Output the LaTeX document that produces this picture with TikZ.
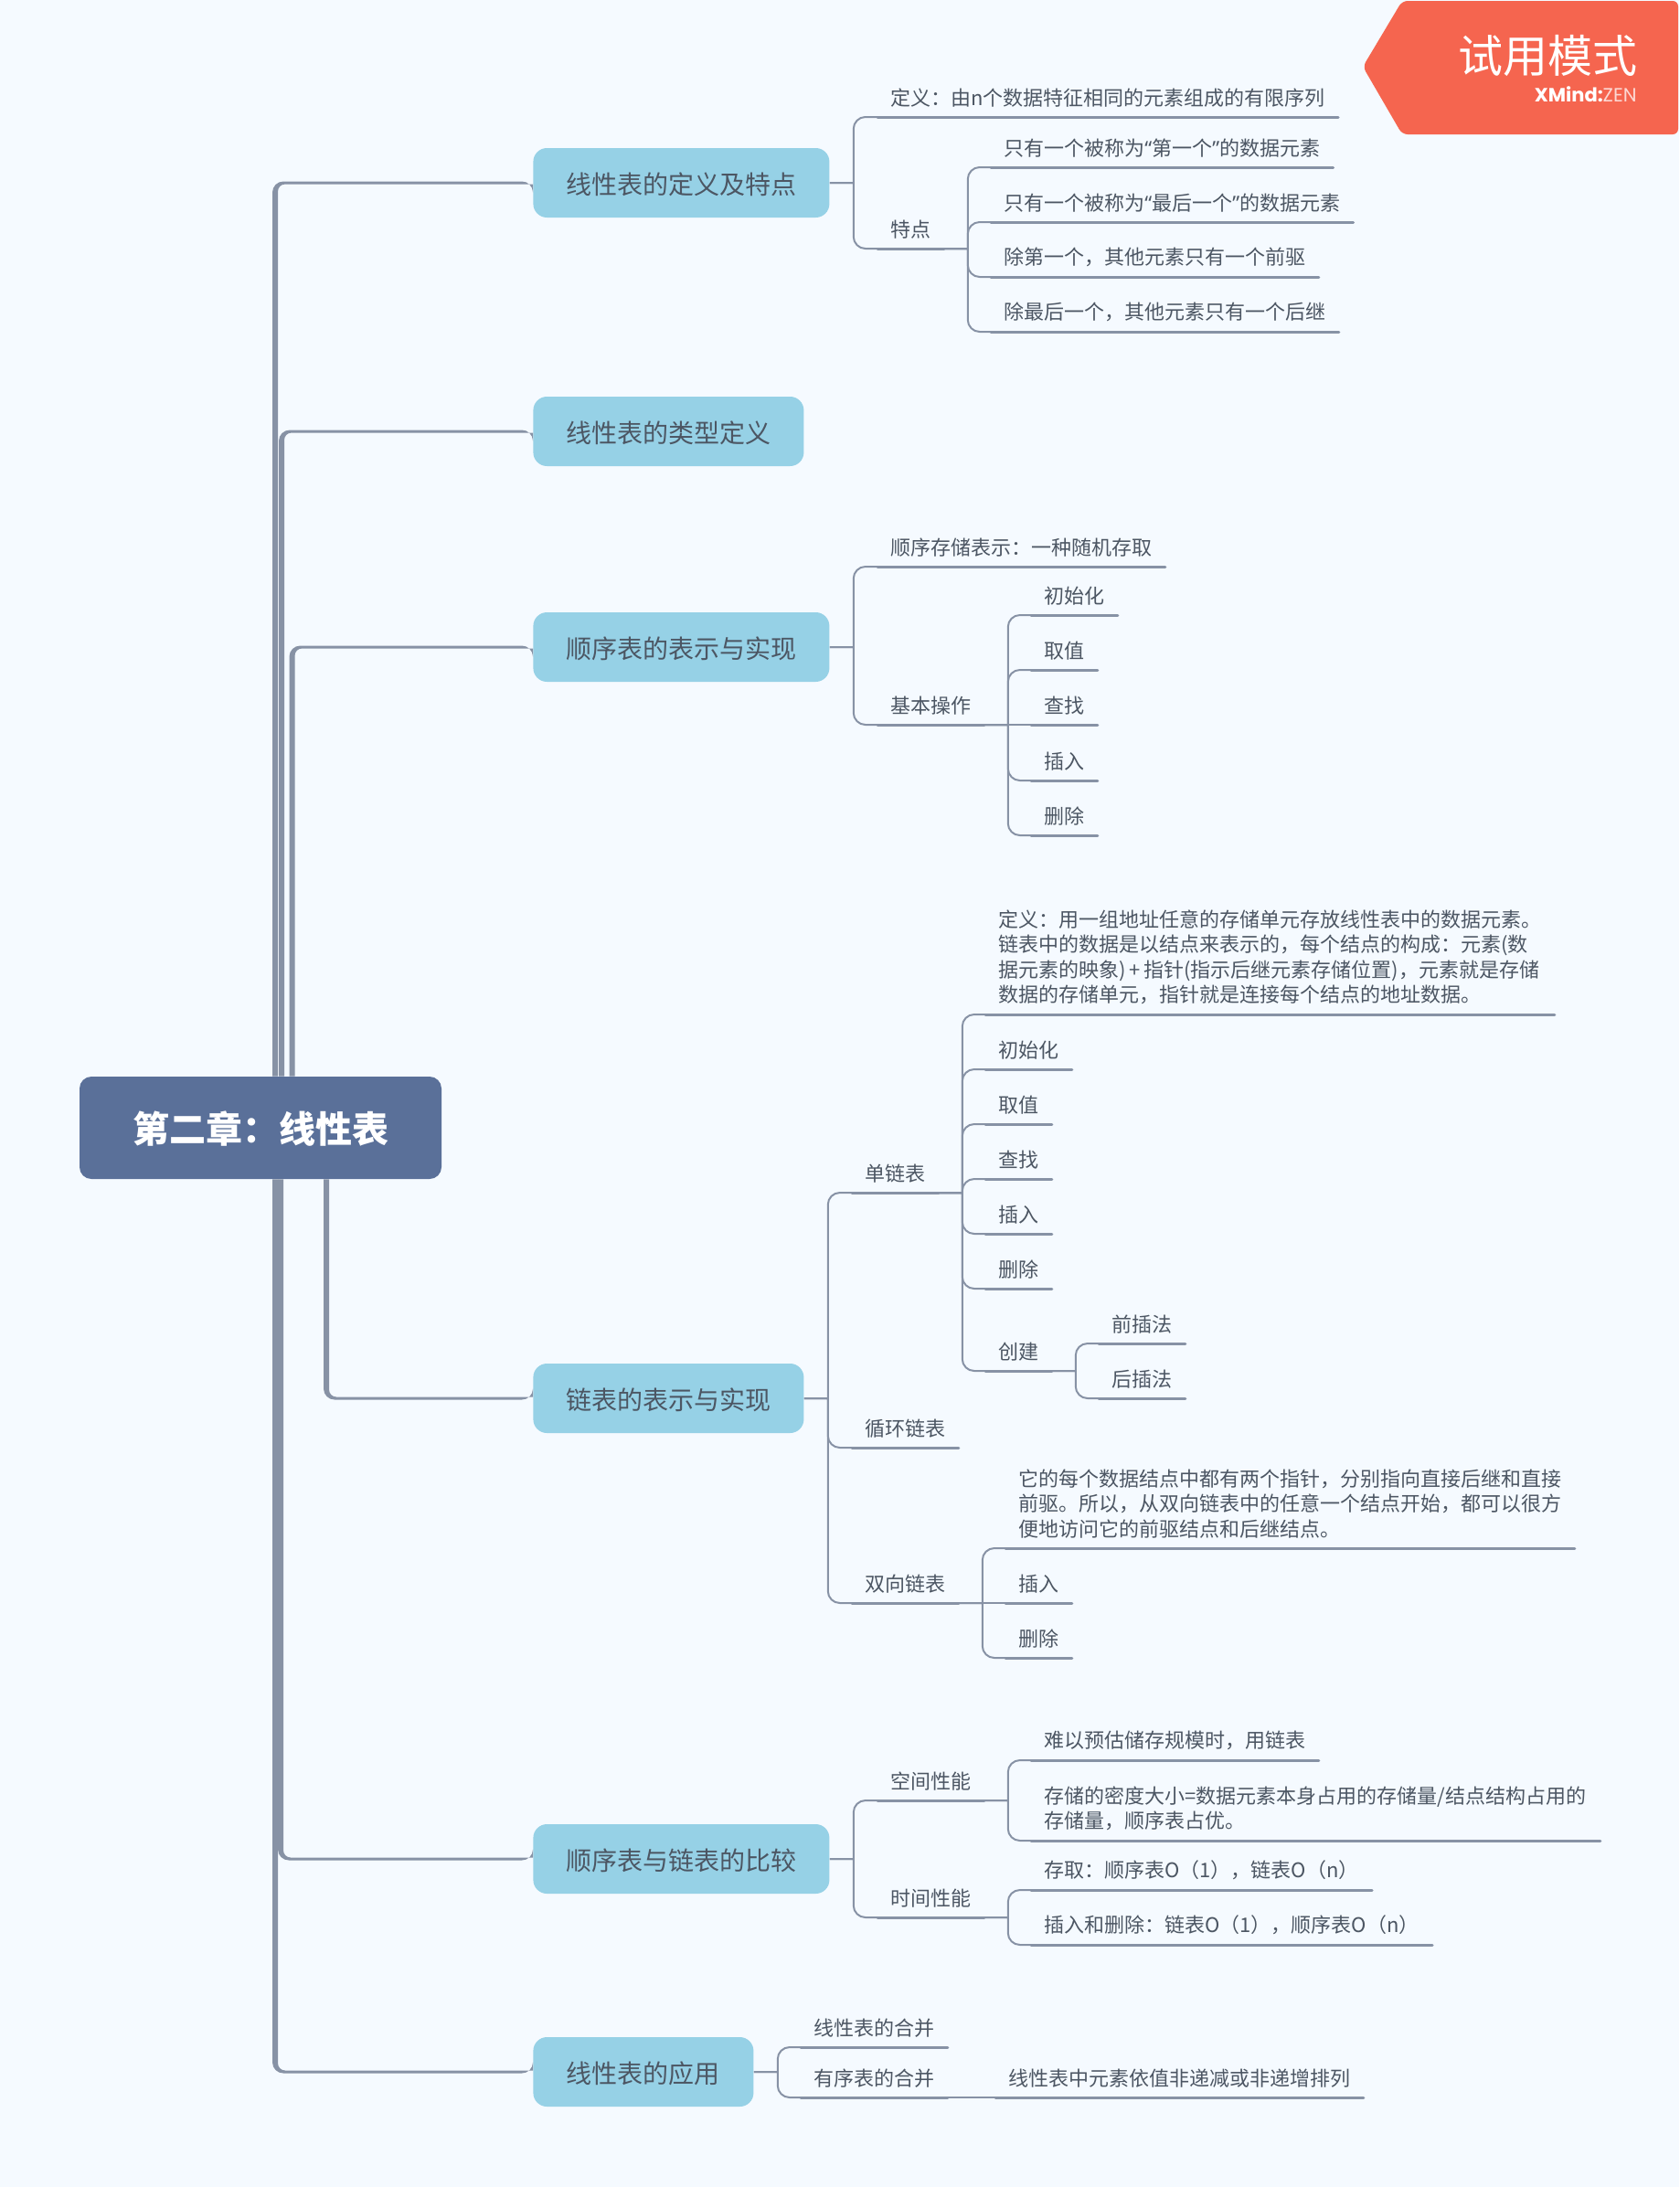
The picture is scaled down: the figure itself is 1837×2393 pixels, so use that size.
\documentclass[tikz,border=0pt]{standalone}
\usepackage{fontspec}
\usepackage{xcolor}
\usetikzlibrary{calc}
\setmainfont{Noto Sans CJK SC}
\newfontfamily\logofont{Poppins}
\newfontfamily\quotefont{Noto Sans}
\newcommand{\openq}{{\quotefont “}}
\newcommand{\closeq}{{\quotefont ”}}
\definecolor{paper}{HTML}{F5FAFF}
\definecolor{linec}{HTML}{8792A5}
\definecolor{rootc}{HTML}{5A7099}
\definecolor{topicc}{HTML}{96D1E6}
\definecolor{inkc}{HTML}{4C5663}
\definecolor{badgec}{HTML}{F5654F}
\tikzset{
  roottopic/.style={fill=rootc,text=white,rounded corners=6.5pt,minimum width=198pt,minimum height=56pt,text height=18.6pt,text depth=2.4pt,font=\fontsize{20}{24}\selectfont\bfseries},
  maintopic/.style={anchor=west,fill=topicc,text=inkc,rounded corners=7.5pt,minimum height=38pt,text height=14.6pt,text depth=2pt,font=\fontsize{14}{17}\selectfont},
  underline/.style={draw=linec,line width=1.5pt,line cap=round},
  branch/.style={draw=linec,line width=1pt},
  curved/.style={rounded corners=6.5pt},
  trunk/.style={fill=linec},
  leaf/.style={anchor=south west,inner xsep=7pt,inner ysep=5.25pt,text=inkc,align=left,font=\fontsize{11}{13.75}\selectfont,
    append after command={(\tikzlastnode.south west) edge[underline] (\tikzlastnode.south east)}}
}
\newcommand{\trunkline}[4]{
  \fill[trunk] (#2,0 |- root.#3) [rounded corners=6pt] -- ($(#2,0 |- #1.west)+(0,#4)$) -- ($(#1.west)+(0,#4)$) [sharp corners] -- ($(#1.west)+(0,-#4)$) [rounded corners=4pt] -- ($(#2+6,0 |- #1.west)+(0,-#4)$) [sharp corners] -- (#2+6,0 |- root.#3) -- cycle;
}
\begin{document}
\begin{tikzpicture}[x=.5pt,y=-.5pt]
\useasboundingbox (0,0) rectangle (1837,2393);
\fill[paper] (0,0) rectangle (1837,2393);
\fill[badgec,rounded corners=3pt] (1836,1) -- (1836,147) -- (1534,147) -- (1491,73) -- (1534,1) -- cycle;
\node[anchor=east,text=white,font=\fontsize{24.5}{28}\selectfont,inner sep=0pt] (badge) at (1792,61) {试用模式};
\node[anchor=east,text=white,font=\fontsize{10.5}{13}\selectfont\logofont,inner sep=0pt] (brand) at (1791,103) {\textbf{XMind:}\textcolor{white!75!badgec}{ZEN}};

\node[roottopic] (root) at (285,1234) {第二章：线性表};
\node[maintopic,minimum width=162pt] (tdef) at (583,200) {线性表的定义及特点};
\node[maintopic,minimum width=148pt] (ttype) at (583,472) {线性表的类型定义};
\node[maintopic,minimum width=162pt] (tseq) at (583,708) {顺序表的表示与实现};
\node[maintopic,minimum width=148pt] (tlink) at (583,1530) {链表的表示与实现};
\node[maintopic,minimum width=162pt] (tcmp) at (583,2034) {顺序表与链表的比较};
\node[maintopic,minimum width=120.5pt] (tuse) at (583,2267) {线性表的应用};

\trunkline{tdef}{298}{north}{-1.5}
\trunkline{ttype}{305}{north}{-1.5}
\trunkline{tseq}{316.5}{north}{-1.5}
\trunkline{tlink}{354}{south}{1.5}
\trunkline{tcmp}{304}{south}{1.5}
\trunkline{tuse}{298}{south}{1.5}

\node[leaf] (a1) at (960,128) {定义：由n个数据特征相同的元素组成的有限序列};
\node[leaf] (a2) at (960,272) {特点};
\node[leaf] (a21) at (1084,183) {只有一个被称为\openq 第一个\closeq 的数据元素};
\node[leaf] (a22) at (1084,243) {只有一个被称为\openq 最后一个\closeq 的数据元素};
\node[leaf] (a23) at (1084,303) {除第一个，其他元素只有一个前驱};
\node[leaf] (a24) at (1084,363) {除最后一个，其他元素只有一个后继};

\node[leaf] (b1) at (960,620) {顺序存储表示：一种随机存取};
\node[leaf] (b2) at (960,793) {基本操作};
\node[leaf] (b21) at (1128,673) {初始化};
\node[leaf] (b22) at (1128,733) {取值};
\node[leaf] (b23) at (1128,793) {查找};
\node[leaf] (b24) at (1128,854) {插入};
\node[leaf] (b25) at (1128,914) {删除};

\node[leaf] (c1) at (932,1305) {单链表};
\node[leaf] (c2) at (932,1584) {循环链表};
\node[leaf] (c3) at (932,1754) {双向链表};
\node[leaf,text width=297pt] (c11) at (1078,1110) {定义：用一组地址任意的存储单元存放线性表中的数据元素。\\链表中的数据是以结点来表示的，每个结点的构成：元素(数\\据元素的映象)\,+\,指针(指示后继元素存储位置)，元素就是存储\\数据的存储单元，指针就是连接每个结点的地址数据。};
\node[leaf] (c12) at (1078,1170) {初始化};
\node[leaf] (c13) at (1078,1230) {取值};
\node[leaf] (c14) at (1078,1290) {查找};
\node[leaf] (c15) at (1078,1350) {插入};
\node[leaf] (c16) at (1078,1410) {删除};
\node[leaf] (c17) at (1078,1500) {创建};
\node[leaf] (c171) at (1202,1470) {前插法};
\node[leaf] (c172) at (1202,1530) {后插法};
\node[leaf,text width=297pt] (c31) at (1100,1694) {它的每个数据结点中都有两个指针，分别指向直接后继和直接\\前驱。所以，从双向链表中的任意一个结点开始，都可以很方\\便地访问它的前驱结点和后继结点。};
\node[leaf] (c32) at (1100,1754) {插入};
\node[leaf] (c33) at (1100,1814) {删除};

\node[leaf] (d1) at (960,1970) {空间性能};
\node[leaf] (d2) at (960,2098) {时间性能};
\node[leaf] (d11) at (1128,1926) {难以预估储存规模时，用链表};
\node[leaf,text width=297pt] (d12) at (1128,2014) {存储的密度大小=数据元素本身占用的存储量/结点结构占用的\\存储量，顺序表占优。};
\node[leaf] (d21) at (1128,2068) {存取：顺序表O（1），链表O（n）};
\node[leaf] (d22) at (1128,2128) {插入和删除：链表O（1），顺序表O（n）};

\node[leaf] (e1) at (876,2240) {线性表的合并};
\node[leaf] (e2) at (876,2295) {有序表的合并};
\node[leaf] (e21) at (1089,2295) {线性表中元素依值非递减或非递增排列};

\foreach \p/\c in {tdef/a1,tdef/a2,tseq/b1,tseq/b2,tlink/c1,tlink/c2,tlink/c3,tcmp/d1,tcmp/d2,tuse/e1,tuse/e2}
  \draw[branch] (\p.east) -- ++(26,0) [curved] |- (\c.south west);
\foreach \p/\c in {a2/a21,a2/a22,a2/a23,a2/a24,b2/b21,b2/b22,b2/b24,b2/b25,c1/c11,c1/c12,c1/c13,c1/c14,c1/c15,c1/c16,c1/c17,c17/c171,c17/c172,c3/c31,c3/c33,d1/d11,d1/d12,d2/d21,d2/d22}
  \draw[branch] (\p.south east) -- ++(26,0) [curved] |- (\c.south west);
\foreach \p/\c in {b2/b23,c3/c32,e2/e21}
  \draw[branch] (\p.south east) -- (\c.south west);
\end{tikzpicture}
\end{document}
